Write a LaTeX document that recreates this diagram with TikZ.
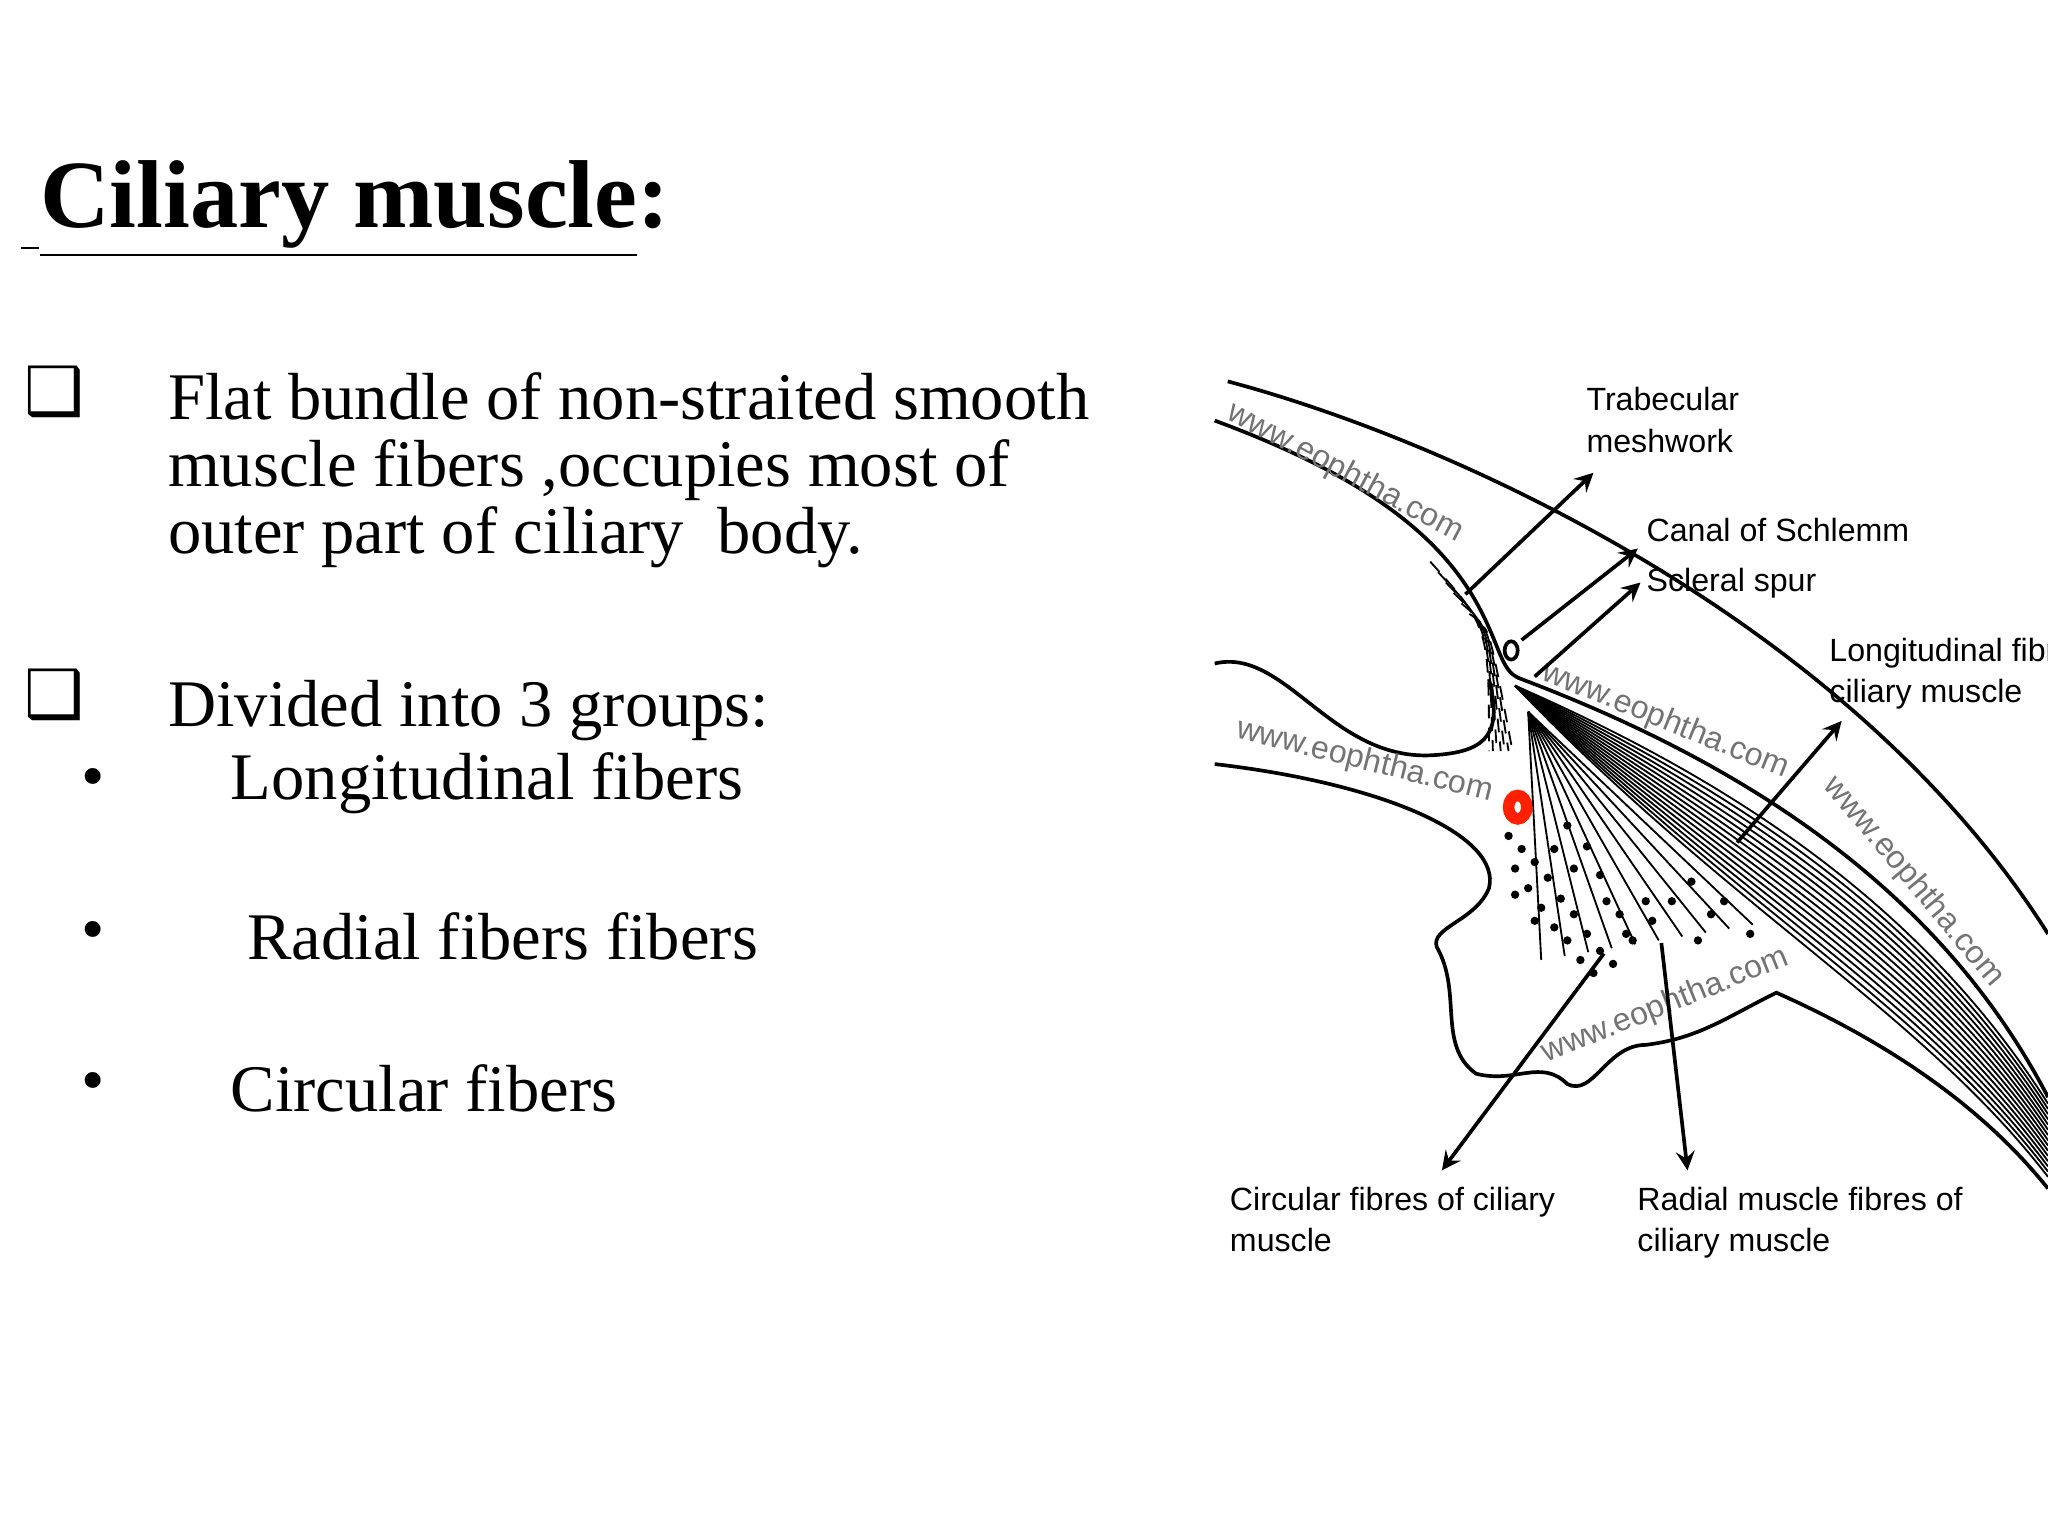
\documentclass[tikz,border=0pt]{standalone}
\usepackage{fontspec}
\setmainfont{Liberation Serif}
\setsansfont{Liberation Sans}
\newfontfamily\symfont{DejaVu Sans}
\usetikzlibrary{positioning}
\tikzset{lbl/.style={font=\sffamily\fontsize{7}{9}\selectfont,align=left,inner sep=0pt,anchor=north west},
wm/.style={font=\sffamily\fontsize{7}{8.5}\selectfont,text=black!55},
body/.style={font=\fontsize{14.5}{14.5}\selectfont,anchor=west,inner sep=0pt,align=left},
arr/.style={thick,-stealth}}
\begin{document}
\begin{tikzpicture}[x=0.01cm,y=-0.01cm]
\useasboundingbox (0,0) rectangle (1568,1176);
% text part
\node[anchor=west,inner sep=0pt,font=\bfseries\fontsize{21}{24}\selectfont] (title) at (30,160) {\underline{Ciliary muscle}:};
\draw[thin] (16,190) -- (title.west |- 0,190);
\node[body] (b1) at (18,300) {\symfont ❑};
\node[body] (t1) at (128,360) {Flat bundle of non-straited smooth\\muscle fibers ,occupies most of\\outer part of ciliary\ \ body.};
\node[body] (b2) at (18,532) {\symfont ❑};
\node[body] (t2) at (128,544) {Divided into 3 groups:};
\foreach \y/\s in {600/Longitudinal fibers,717/\ Radial fibers fibers,833/Circular fibers}{
  \node[body] at (62,\y) {\textbullet};
  \node[body] at (176,\y) {\s};
}
% diagram outlines
\draw[thick] (940,292) .. controls (1120,340) and (1420,480) .. (1568,715);
\draw[thick] (930,322) .. controls (1060,370) and (1110,420) .. (1135,470)
  .. controls (1150,500) and (1150,515) .. (1165,520)
  .. controls (1350,590) and (1490,690) .. (1568,840);
\draw[thick] (930,508) .. controls (985,495) and (1020,585) .. (1100,578)
  .. controls (1140,575) and (1150,560) .. (1140,520);
\draw[thick] (930,585) .. controls (1060,600) and (1150,640) .. (1140,680)
  .. controls (1130,705) and (1095,710) .. (1100,725)
  .. controls (1120,760) and (1100,800) .. (1130,822)
  .. controls (1160,830) and (1180,810) .. (1200,830)
  .. controls (1220,840) and (1230,800) .. (1260,800)
  .. controls (1300,795) and (1320,780) .. (1360,760)
  .. controls (1450,800) and (1520,850) .. (1568,910);
% trabecular meshwork
\foreach \i in {0,...,6}
  \draw[densely dashed,thin] (1095+6*\i,430+8*\i) .. controls (1140,480) .. (1140+3*\i,575);
\draw[thick] (1157,498) ellipse (5 and 7);
% longitudinal fibres
\foreach \i in {0,...,14}
  \draw[thin] (1160,525) .. controls (1320,595+7*\i) and (1470,690+6*\i) .. (1568,845+4*\i);
% radial fibres
\foreach \i in {0,...,9}
  \draw[thin] (1170,545) -- (1180+18*\i,735-3*\i);
% circular fibres (dots)
\foreach \x/\y in {1155/640,1165/650,1160/665,1175/660,1170/680,1185/672,1180/695,1195/688,1190/710,1205/700,1200/720,1215/715,1210/735,1225/728,1220/745,1235/738,1175/705,1160/685,1190/650,1205/665,1200/632,1215/648,1225/670,1230/690,1245/715,1260/690,1265/705,1280/690,1295/675,1300/720,1310/700,1320/690,1340/715,1250/720,1240/700}
  \fill (\x,\y) circle (3.2);
\draw[red!75!orange,line width=2.5pt] (1162,618) ellipse (7 and 9);
% watermarks
\node[wm,rotate=-28] (w1) at (1030,362) {www.eophtha.com};
\node[wm,rotate=-22] (w2) at (1275,552) {www.eophtha.com};
\node[wm,rotate=-14] (w3) at (1045,583) {www.eophtha.com};
\node[wm,rotate=-50] (w4) at (1465,675) {www.eophtha.com};
\node[wm,rotate=22] (w5) at (1275,770) {www.eophtha.com};
% labels
\node[lbl] (trab) at (1214,296) {Trabecular\\meshwork};
\node[lbl] (can) at (1260,396) {Canal of Schlemm};
\node[lbl] (spur) at (1260,434) {Scleral spur};
\node[lbl] (lon) at (1400,488) {Longitudinal fibres of\\ciliary muscle};
\node[lbl] (circ) at (941,908) {Circular fibres of ciliary\\muscle};
\node[lbl] (rad) at (1253,908) {Radial muscle fibres of\\ciliary muscle};
\coordinate (c1) at (1122,455);
\coordinate (c2) at (1165,490);
\coordinate (c3) at (1175,518);
\coordinate (c4) at (1330,645);
\coordinate (c5) at (1228,730);
\coordinate (c6) at (1272,722);
\draw[arr] (c1) -- (1220,362);
\draw[arr] (c2) -- (1254,420);
\draw[arr] (c3) -- (1256,446);
\draw[arr] (c4) -- (1410,552);
\draw[arr] (c5) -- (1104,896);
\draw[arr] (c6) -- (1292,896);
\end{tikzpicture}
\end{document}
